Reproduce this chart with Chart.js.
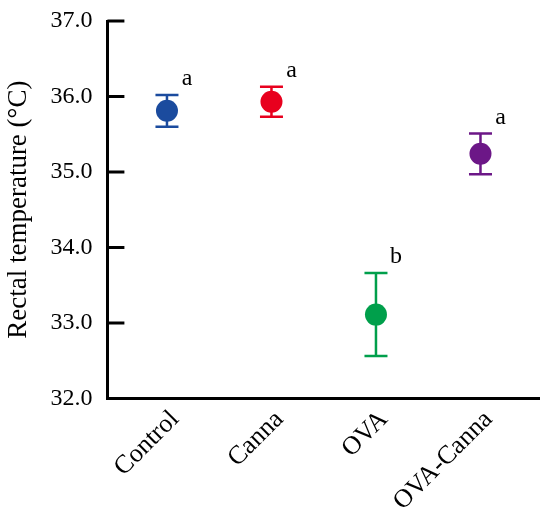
<!DOCTYPE html>
<html>
<head>
<meta charset="utf-8">
<script src="https://cdn.jsdelivr.net/npm/chart.js@4/dist/chart.umd.min.js"></script>
<style>
html,body{margin:0;padding:0;background:#fff;}
#wrap{width:550px;height:524px;position:relative;}
</style>
</head>
<body>
<div id="wrap"><canvas id="c"></canvas></div>
<script>
const categories = ['Control', 'Canna', 'OVA', 'OVA-Canna'];
const means = [35.81, 35.93, 33.11, 35.24];
const errors = [0.21, 0.20, 0.55, 0.27];
const letters = ['a', 'a', 'b', 'a'];
const colors = ['#1B4B9E', '#E8001E', '#009F4B', '#6C1787'];
const yTicks = [32, 33, 34, 35, 36, 37];
const yTitle = 'Rectal temperature (°C)';

const FONT = "'Liberation Serif', serif";

const errPlugin = {
  id: 'errbars',
  beforeDatasetsDraw(chart) {
    const ctx = chart.ctx, xs = chart.scales.x, ys = chart.scales.y;
    ctx.save();
    ctx.lineWidth = 2.5;
    means.forEach((m, i) => {
      const x = xs.getPixelForValue(i);
      const yt = ys.getPixelForValue(m + errors[i]);
      const yb = ys.getPixelForValue(m - errors[i]);
      ctx.strokeStyle = colors[i];
      ctx.beginPath();
      ctx.moveTo(x, yt); ctx.lineTo(x, yb);
      ctx.moveTo(x - 11.5, yt); ctx.lineTo(x + 11.5, yt);
      ctx.moveTo(x - 11.5, yb); ctx.lineTo(x + 11.5, yb);
      ctx.stroke();
    });
    ctx.restore();
  },
  afterDatasetsDraw(chart) {
    const ctx = chart.ctx, xs = chart.scales.x, ys = chart.scales.y;
    ctx.save();
    ctx.fillStyle = '#000';
    ctx.font = "24px " + FONT;
    ctx.textAlign = 'center';
    ctx.textBaseline = 'middle';
    means.forEach((m, i) => {
      const x = xs.getPixelForValue(i);
      const yt = ys.getPixelForValue(m + errors[i]);
      ctx.fillText(letters[i], x + 20, yt - 16);
    });
    // inward y ticks
    ctx.strokeStyle = '#000';
    ctx.lineWidth = 3;
    ctx.beginPath();
    yTicks.forEach(v => {
      const y = ys.getPixelForValue(v);
      ctx.moveTo(ys.right, y); ctx.lineTo(ys.right + 17, y);
    });
    ctx.stroke();
    ctx.restore();
  }
};

new Chart(document.getElementById('c'), {
  type: 'scatter',
  data: {
    datasets: [{
      data: means.map((m, i) => ({ x: i, y: m })),
      backgroundColor: colors,
      borderColor: colors,
      pointRadius: 11,
      pointHoverRadius: 11,
      borderWidth: 0
    }]
  },
  options: {
    responsive: true,
    maintainAspectRatio: false,
    animation: false,
    events: [],
    layout: { padding: { left: 3, right: 4, top: 0, bottom: 1 } },
    plugins: { legend: { display: false }, tooltip: { enabled: false } },
    scales: {
      x: {
        type: 'linear',
        min: -0.57,
        max: 3.56,
        afterBuildTicks: s => { s.ticks = categories.map((c, i) => ({ value: i })); },
        grid: { display: true, drawOnChartArea: false, drawTicks: false },
        border: { display: true, color: '#000', width: 3 },
        ticks: {
          autoSkip: false,
          maxRotation: 45,
          minRotation: 45,
          padding: 6,
          labelOffset: 8,
          color: '#000',
          font: { family: FONT, size: 26 },
          callback: v => categories[v] ?? ''
        }
      },
      y: {
        min: 32,
        max: 37,
        afterBuildTicks: s => { s.ticks = yTicks.map(v => ({ value: v })); },
        grid: { display: true, drawOnChartArea: false, drawTicks: false },
        border: { display: true, color: '#000', width: 3 },
        ticks: {
          padding: 15,
          color: '#000',
          font: { family: FONT, size: 24, lineHeight: 0.5 },
          callback: v => Number(v).toFixed(1)
        },
        title: {
          display: true,
          text: yTitle,
          color: '#000',
          font: { family: FONT, size: 27 },
          padding: { top: 0, bottom: 0 }
        }
      }
    }
  },
  plugins: [errPlugin]
});
</script>
</body>
</html>
